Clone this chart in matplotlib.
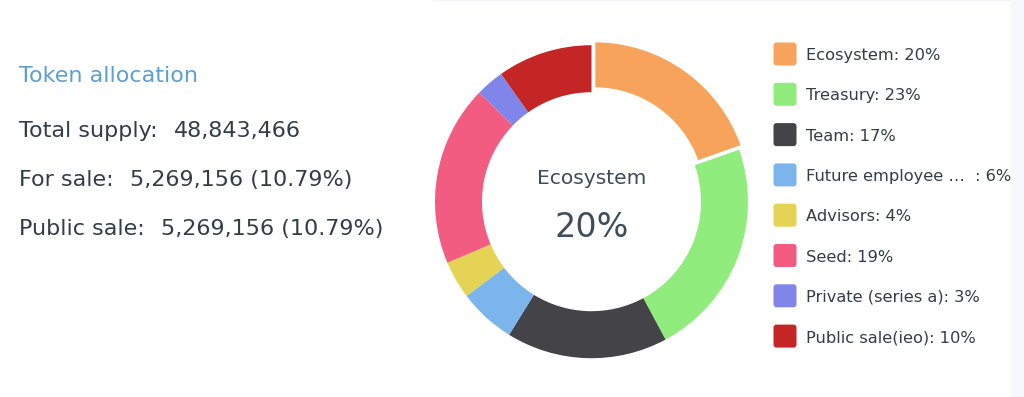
import matplotlib
matplotlib.use('Agg')
import matplotlib.pyplot as plt
from matplotlib.patches import FancyBboxPatch, Rectangle

# Allocation data
labels = ['Ecosystem', 'Treasury', 'Team', 'Future employee \u2026  ', 'Advisors',
          'Seed', 'Private (series a)', 'Public sale(ieo)']
shares = [20, 23, 17, 6, 4, 19, 3, 10]
colors = ['#f7a35c', '#90ed7d', '#434348', '#7cb5ec', '#e4d354',
          '#f15c80', '#8085e9', '#c42525']

info_keys = ['Total supply:', 'For sale:', 'Public sale:']
info_vals = ['48,843,466', '5,269,156 (10.79%)', '5,269,156 (10.79%)']

W, H = 1024, 397
plt.rcParams['font.family'] = ['DejaVu Sans']
fig = plt.figure(figsize=(W / 100, H / 100), dpi=100)
fig.patch.set_facecolor('white')

# overlay axes in pixel coordinates (y down)
ov = fig.add_axes([0, 0, 1, 1])
ov.set_xlim(0, W)
ov.set_ylim(H, 0)
ov.axis('off')

# card edges
ov.add_patch(Rectangle((433, 0), W - 433, 1.2, color='#f1f2f5', lw=0))
ov.add_patch(Rectangle((1011, 0), W - 1011, H, color='#f7f8fb', lw=0))

text_col = '#333d47'
ov.text(19, 82, 'Token allocation', fontsize=16, color='#5c9fd2', va='baseline')
renderer = fig.canvas.get_renderer()
for i, (k, v) in enumerate(zip(info_keys, info_vals)):
    y = 137 + i * 49.2
    t = ov.text(19, y, k, fontsize=16, color=text_col, va='baseline')
    x_end = t.get_window_extent(renderer).x1
    ov.text(x_end + 16, y, v, fontsize=16, color=text_col, va='baseline')

# donut
cx, cy, R = 591.5, 201.7, 160
pa = fig.add_axes([(cx - R) / W, (H - cy - R) / H, 2 * R / W, 2 * R / H])
outer = 156.5 / R
ring = (156.5 - 109.5) / R
explode = [0.03] + [0] * (len(shares) - 1)
wedges, _ = pa.pie(shares, colors=colors, startangle=90, counterclock=False,
                   radius=outer, explode=explode,
                   wedgeprops=dict(width=ring, linewidth=0))
wedges[0].set_edgecolor('white')
wedges[0].set_linewidth(1.5)
pa.set_xlim(-1, 1)
pa.set_ylim(-1, 1)
pa.axis('off')

ov.text(cx, 184, labels[0], fontsize=14.6, color='#3d4d5c', ha='center',
        va='baseline')
ov.text(cx, 237, f'{shares[0]}%', fontsize=24, color='#3d4d5c', ha='center',
        va='baseline')

# legend
for i, (lab, v, c) in enumerate(zip(labels, shares, colors)):
    y = 54 + i * 40.3
    ov.add_patch(FancyBboxPatch((773.5 + 3, y - 11.5 + 3), 23 - 6, 23 - 6,
                                boxstyle='round,pad=3', fc=c, ec='none'))
    ov.text(806.5, y, f'{lab.rstrip() if i != 3 else lab}: {v}%', fontsize=11.7,
            color=text_col, va='center_baseline')

plt.savefig('out.png', dpi=100, facecolor='white')
plt.close()
